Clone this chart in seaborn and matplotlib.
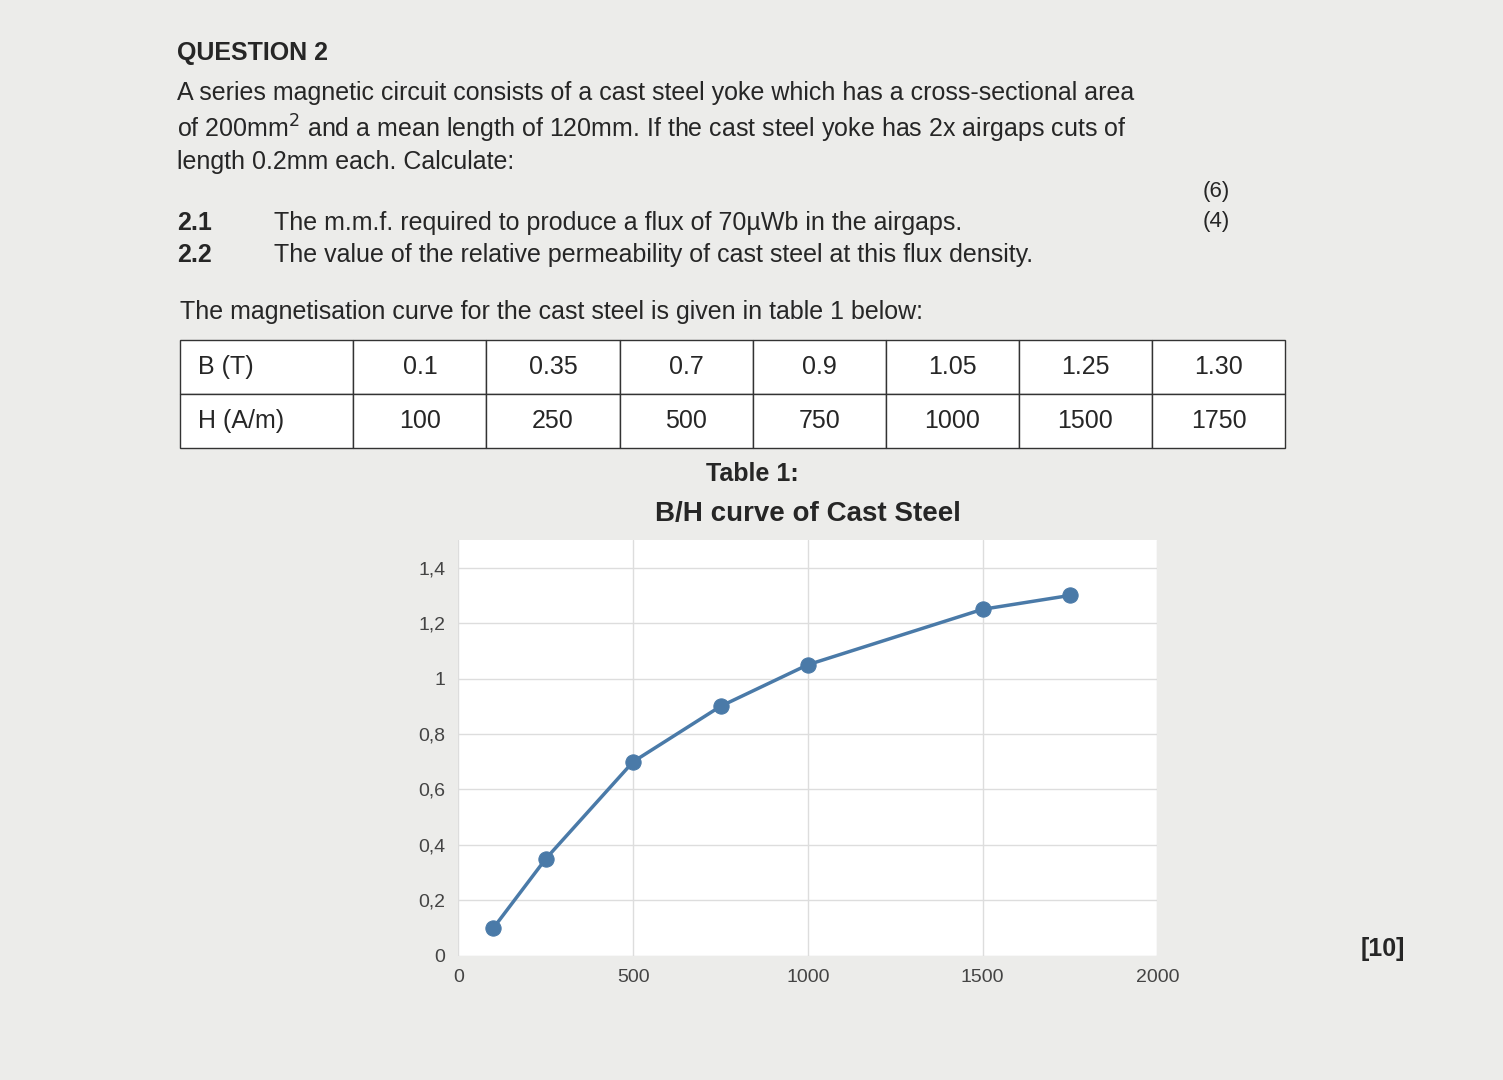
import matplotlib
matplotlib.use("Agg")
import matplotlib.pyplot as plt
import seaborn as sns
import pandas as pd

sns.set_theme(style="whitegrid")
plt.rcParams['font.family'] = ['Liberation Sans', 'DejaVu Sans']

B_T = [0.1, 0.35, 0.7, 0.9, 1.05, 1.25, 1.30]
H_Am = [100, 250, 500, 750, 1000, 1500, 1750]
b_labels = ["0.1", "0.35", "0.7", "0.9", "1.05", "1.25", "1.30"]
h_labels = ["100", "250", "500", "750", "1000", "1500", "1750"]
x_ticks = [0, 500, 1000, 1500, 2000]
y_ticks = [0, 0.2, 0.4, 0.6, 0.8, 1.0, 1.2, 1.4]

fig = plt.figure(figsize=(15.03, 10.8), dpi=100)
fig.patch.set_facecolor("#ececea")

fig.text(0.118, 0.962, "QUESTION 2", fontsize=18, fontweight="bold", va="top")
fig.text(0.118, 0.925,
         "A series magnetic circuit consists of a cast steel yoke which has a cross-sectional area\n"
         "of 200mm$^2$ and a mean length of 120mm. If the cast steel yoke has 2x airgaps cuts of\n"
         "length 0.2mm each. Calculate:", fontsize=18, va="top", linespacing=1.3)
fig.text(0.118, 0.805, "2.1", fontsize=18, fontweight="bold", va="top")
fig.text(0.182, 0.805, "The m.m.f. required to produce a flux of 70µWb in the airgaps.", fontsize=18, va="top")
fig.text(0.118, 0.775, "2.2", fontsize=18, fontweight="bold", va="top")
fig.text(0.182, 0.775, "The value of the relative permeability of cast steel at this flux density.", fontsize=18, va="top")
fig.text(0.800, 0.832, "(6)", fontsize=16, va="top")
fig.text(0.800, 0.805, "(4)", fontsize=16, va="top")
fig.text(0.120, 0.722, "The magnetisation curve for the cast steel is given in table 1 below:", fontsize=18, va="top")

tax = fig.add_axes([0.120, 0.585, 0.735, 0.10])
tax.axis("off")
tbl = tax.table(cellText=[["B (T)"] + b_labels, ["H (A/m)"] + h_labels],
                cellLoc="center", loc="center", bbox=[0, 0, 1, 1],
                colWidths=[1.3] + [1] * 7)
tbl.auto_set_font_size(False)
tbl.set_fontsize(18)
for (r, c), cell in tbl.get_celld().items():
    cell.set_facecolor("white")
    cell.set_edgecolor("#333333")
    if c == 0:
        cell.get_text().set_ha("left")
        cell._loc = "left"
fig.text(0.47, 0.572, "Table 1:", fontsize=18, fontweight="bold", va="top")

ax = fig.add_axes([0.305, 0.115, 0.465, 0.385])
df = pd.DataFrame({"H": H_Am, "B": B_T})
sns.lineplot(data=df, x="H", y="B", ax=ax, color="#4a7aa8", linewidth=2.5,
             marker="o", markersize=11, markeredgecolor="#4a7aa8")
ax.set_facecolor("white")
ax.set_xlim(0, 2000)
ax.set_ylim(0, 1.5)
ax.set_xticks(x_ticks)
ax.set_yticks(y_ticks)
ax.set_yticklabels(["0", "0,2", "0,4", "0,6", "0,8", "1", "1,2", "1,4"])
ax.tick_params(labelsize=14, colors="#444444")
ax.set_xlabel("")
ax.set_ylabel("")
for s in ax.spines.values():
    s.set_visible(False)
ax.grid(color="#dddddd")
ax.set_title("B/H curve of Cast Steel", fontsize=20, fontweight="bold", pad=14)

fig.text(0.905, 0.115, "[10]", fontsize=18, fontweight="bold")

fig.savefig("out.png", dpi=100, facecolor=fig.get_facecolor())
